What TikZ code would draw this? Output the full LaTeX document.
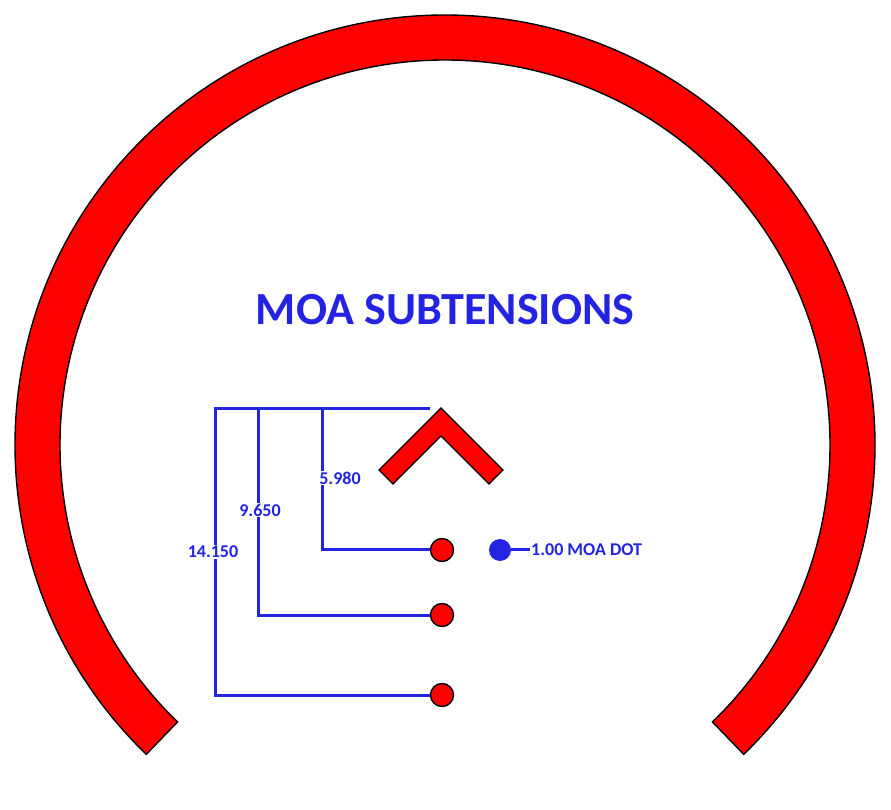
\documentclass[tikz,border=0pt]{standalone}
\usepackage{fontspec}
\setmainfont{Carlito}
\usetikzlibrary{positioning}
\definecolor{moablue}{RGB}{35,35,225}
\tikzset{
    redpart/.style={draw=black, line width=1.4pt, fill=red},
    leader/.style={draw=moablue, line width=3pt},
    lbl/.style={text=moablue, font=\fontsize{18}{20}\selectfont\bfseries, inner sep=1pt}
}
\begin{document}
\begin{tikzpicture}[x=1pt, y=1pt]
    \useasboundingbox (0,0) rectangle (891,809);
    % Outer ring
    \draw[redpart] ([shift={(226:430)}]445,364) arc (226:-46:430)
        -- ([shift={(-46:385)}]445,364) arc (-46:226:385) -- cycle;
    % Title
    \node[text=moablue, font=\fontsize{46}{50}\selectfont\bfseries] (title) at (445,499) {MOA SUBTENSIONS};
    % Chevron
    \draw[redpart] (441,401) -- (503,339) -- (489,325) -- (441,373) -- (393,325) -- (379,339) -- cycle;
    % Dots
    \node[circle, redpart, minimum size=23pt, inner sep=0pt] (d1) at (442,259) {};
    \node[circle, redpart, minimum size=23pt, inner sep=0pt] (d2) at (442,194) {};
    \node[circle, redpart, minimum size=23pt, inner sep=0pt] (d3) at (442,114) {};
    \node[circle, fill=moablue, minimum size=22pt, inner sep=0pt] (bd) at (500,259) {};
    \node[lbl, anchor=west] (bdl) at (530,259) {1.00 MOA DOT};
    \draw[leader] (bd.east) -- (bdl.west);
    % Leader lines
    \coordinate (top) at (430,400);
    \coordinate (v1) at (322,400);
    \coordinate (v2) at (258,400);
    \coordinate (v3) at (215,400);
    \draw[leader] (top) -- (v3) |- (d3.west);
    \draw[leader] (v2) |- (d2.west);
    \draw[leader] (v1) |- (d1.west);
    % Labels
    \node[lbl, fill=white] (l1) at (340,331) {5.980};
    \node[lbl, fill=white] (l2) at (260,299) {9.650};
    \node[lbl, fill=white] (l3) at (213,257) {14.150};
\end{tikzpicture}
\end{document}
